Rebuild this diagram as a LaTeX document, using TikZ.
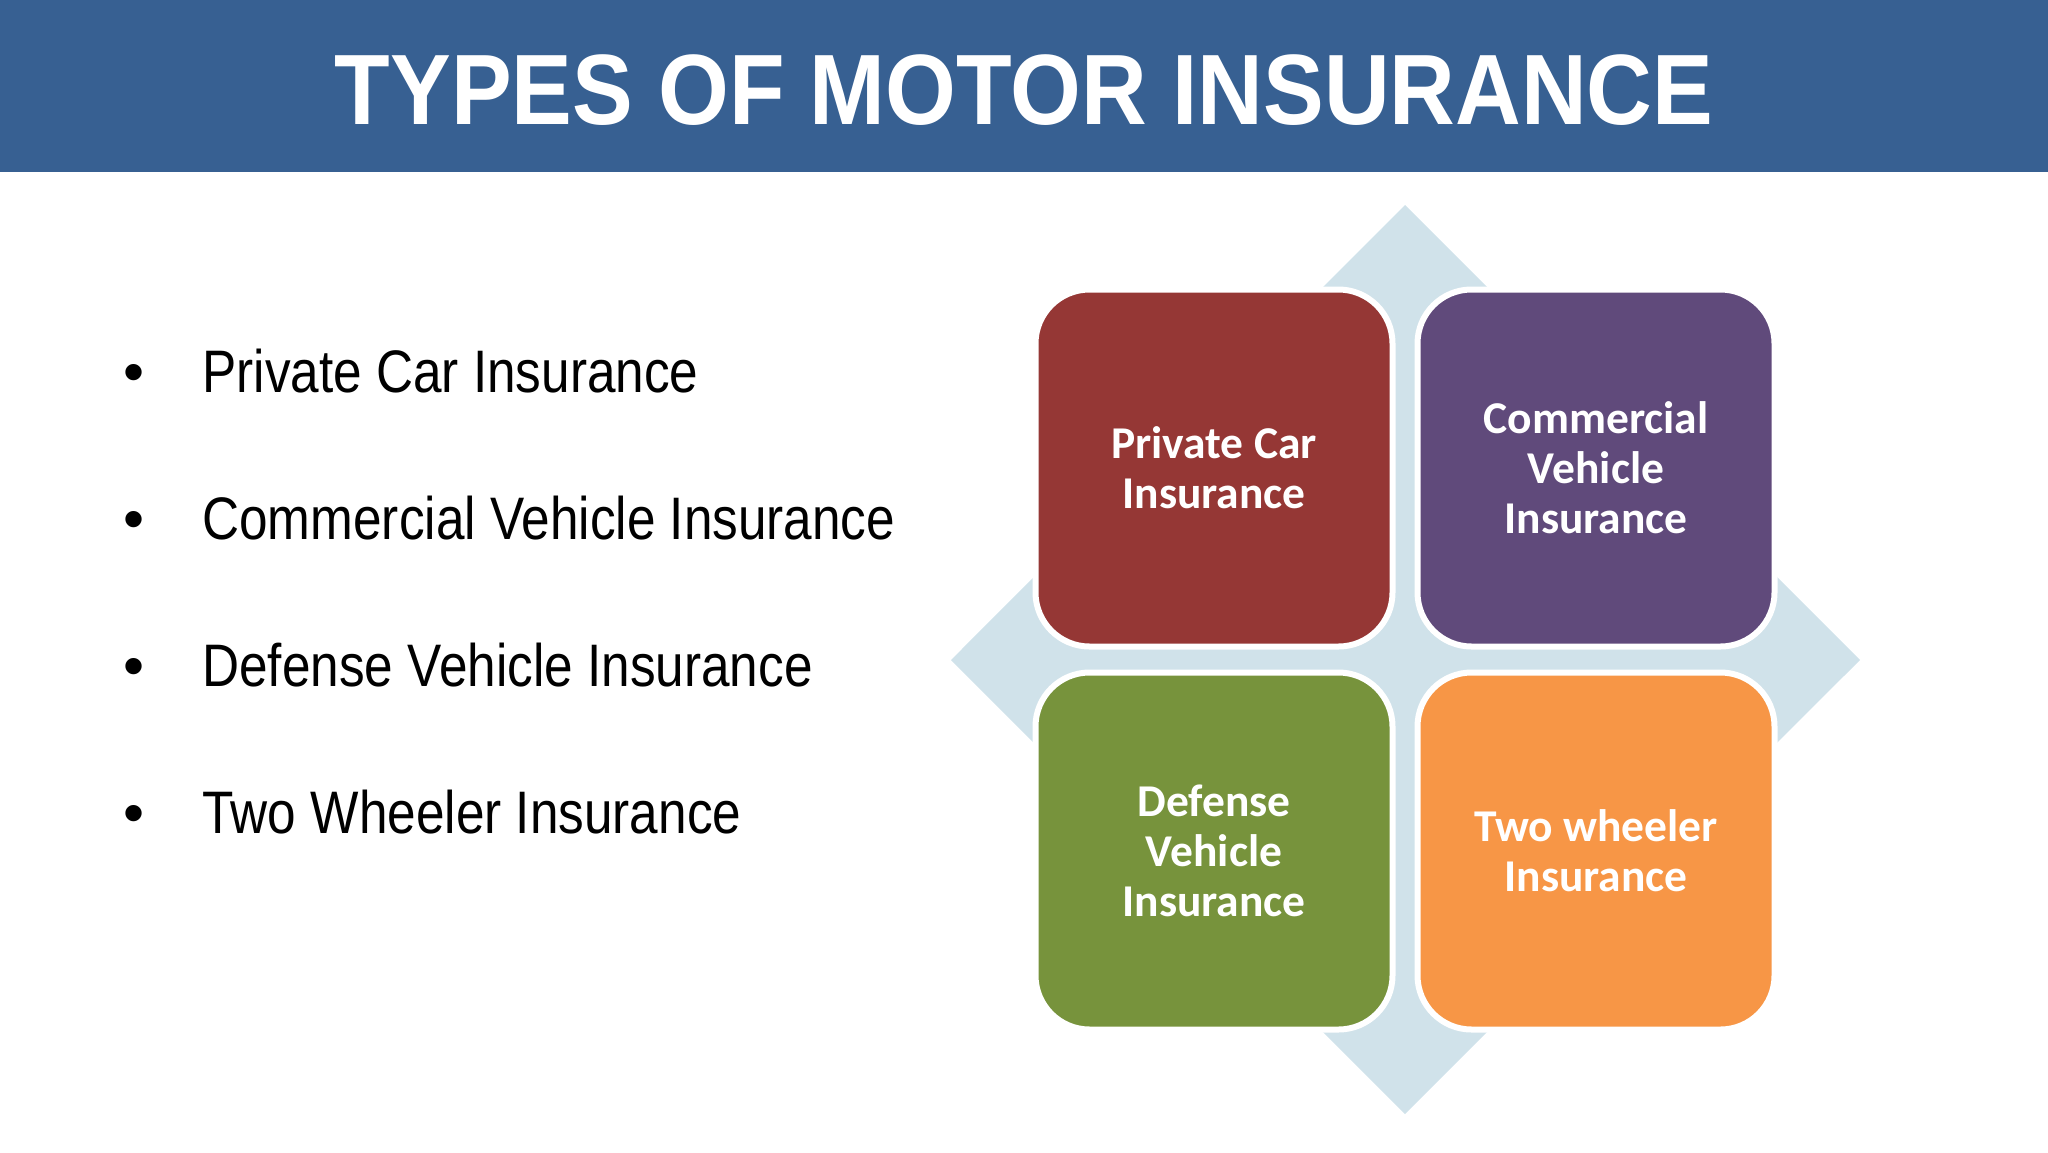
\documentclass[tikz,border=0pt]{standalone}
\usepackage{fontspec}
\setmainfont{Liberation Sans}
\newfontfamily\listfont[FakeStretch=0.855]{Liberation Sans}
\newfontfamily\titlefont[FakeStretch=0.91]{Liberation Sans}
\newfontfamily\tilefont{Carlito}

\begin{document}
\begin{tikzpicture}[x=1pt, y=-1pt, thick]
    % colours
    \definecolor{headblue}{RGB}{55, 96, 146}
    \definecolor{diamondblue}{RGB}{208, 226, 234}
    \definecolor{carred}{RGB}{149, 55, 53}
    \definecolor{vanpurple}{RGB}{96, 74, 123}
    \definecolor{armygreen}{RGB}{119, 147, 60}
    \definecolor{bikeorange}{RGB}{247, 150, 70}
    \tikzset{
        item/.style={anchor=base west, inner sep=0pt, font=\listfont\fontsize{60}{72}\selectfont},
        dot/.style={anchor=base, inner sep=0pt, font=\fontsize{60}{72}\selectfont},
        tile/.style={draw=white, line width=6pt, rounded corners=54pt, minimum size=357pt,
            text=white, align=center, font=\tilefont\bfseries\fontsize{45.5}{50}\selectfont}
    }
    \useasboundingbox (0, 0) rectangle (2048, 1152);

    % header bar
    \fill[headblue] (0, 0) rectangle (2048, 172);
    \node[text=white, anchor=base, inner sep=0pt, font=\titlefont\bfseries\fontsize{100}{120}\selectfont]
        (title) at (1024, 124) {TYPES OF MOTOR INSURANCE};

    % bullet list
    \node[dot] (b1) at (134, 392) {\textbullet};
    \node[item] (i1) at (202, 392) {Private Car Insurance};
    \node[dot] (b2) at (134, 539) {\textbullet};
    \node[item] (i2) at (202, 539) {Commercial Vehicle Insurance};
    \node[dot] (b3) at (134, 686) {\textbullet};
    \node[item] (i3) at (202, 686) {Defense Vehicle Insurance};
    \node[dot] (b4) at (134, 833) {\textbullet};
    \node[item] (i4) at (202, 833) {Two Wheeler Insurance};

    % diamond behind the tiles
    \fill[diamondblue] (1405, 205) -- (1860, 660) -- (1405, 1114) -- (951, 660) -- cycle;

    % four tiles
    \node[tile, fill=carred] (car) at (1214, 468) {Private Car\\Insurance};
    \node[tile, fill=vanpurple] (van) at (1596, 468) {Commercial\\Vehicle\\Insurance};
    \node[tile, fill=armygreen] (army) at (1214, 851) {Defense\\Vehicle\\Insurance};
    \node[tile, fill=bikeorange] (bike) at (1596, 851) {Two wheeler\\Insurance};

\end{tikzpicture}
\end{document}
